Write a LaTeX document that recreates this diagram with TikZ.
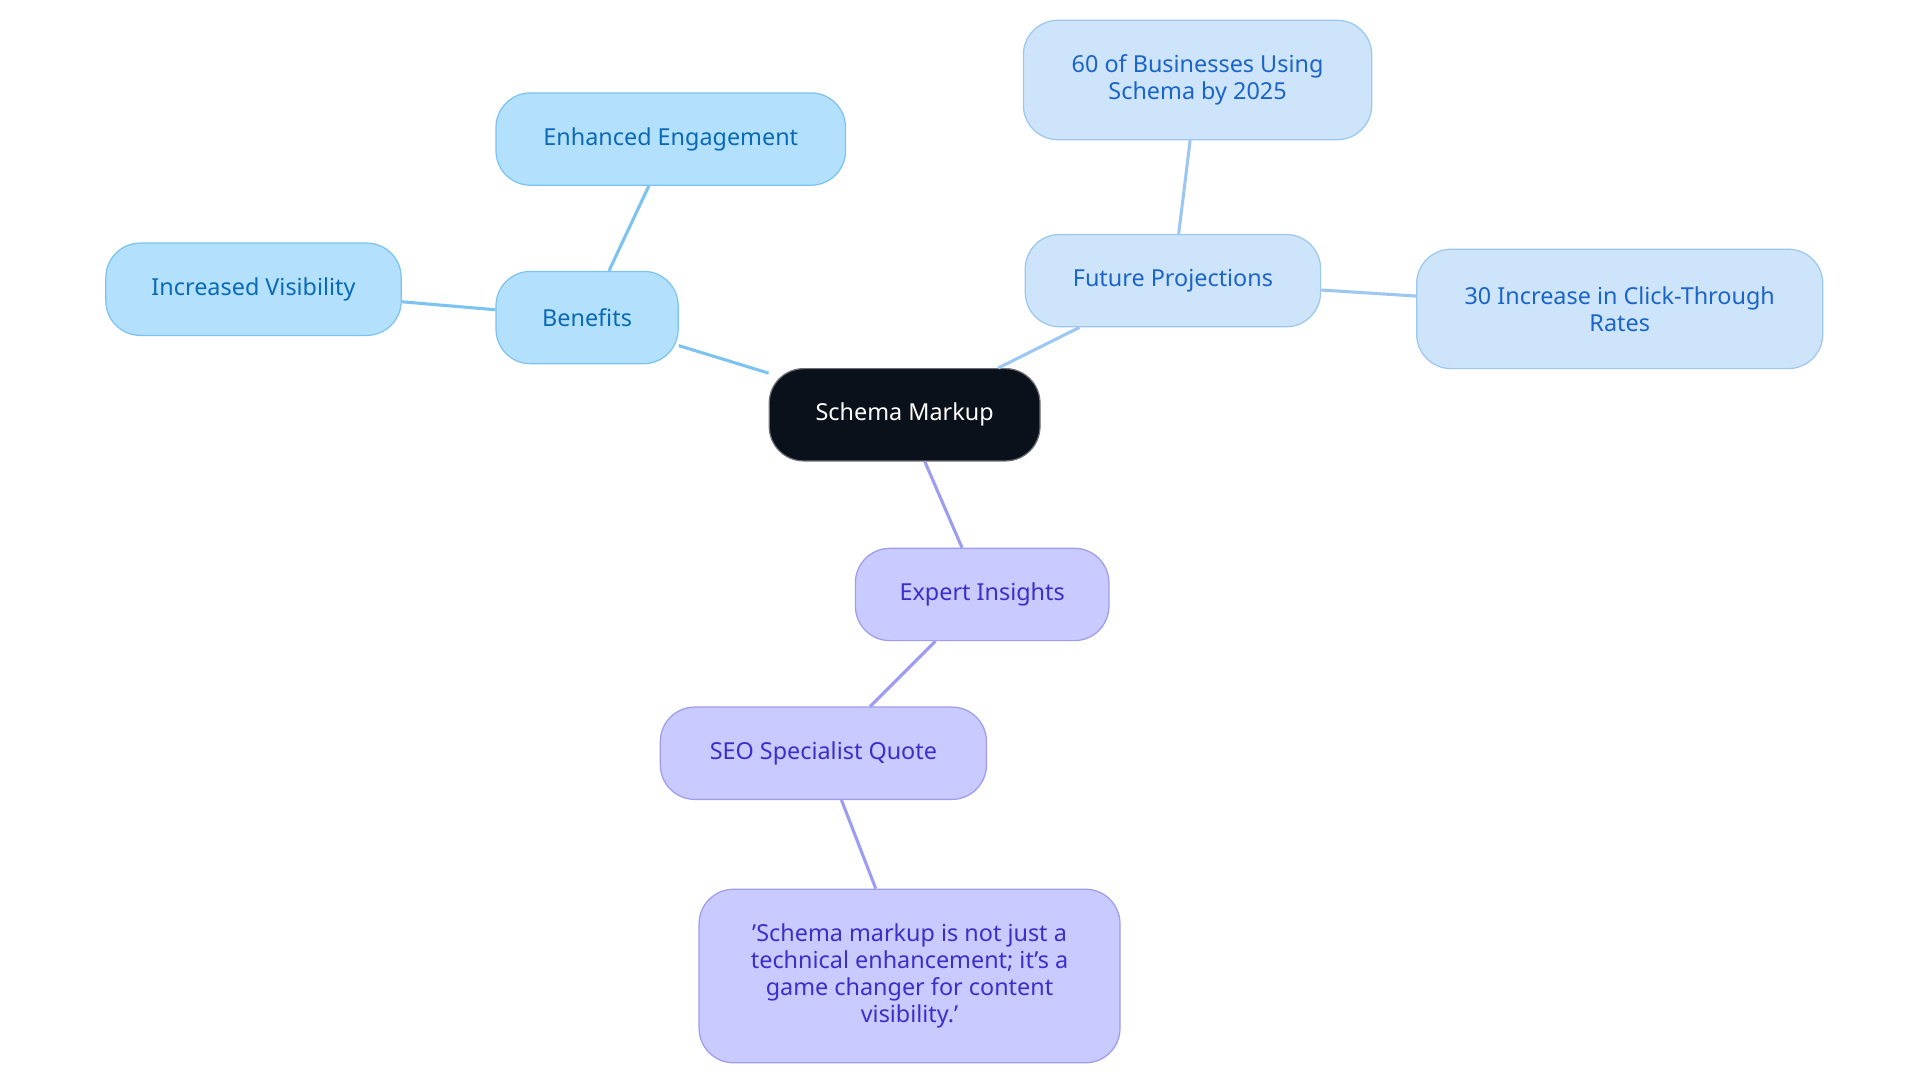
\documentclass[tikz,border=0pt]{standalone}
\usepackage{fontspec}
\setmainfont{Noto Sans}
\definecolor{bfill}{HTML}{B3E0FD}\definecolor{bdraw}{HTML}{7CC3F2}\definecolor{btext}{HTML}{0B6AB5}
\definecolor{ffill}{HTML}{CDE4FB}\definecolor{fdraw}{HTML}{9CC7F0}\definecolor{ftext}{HTML}{1B64C8}
\definecolor{efill}{HTML}{C9CAFF}\definecolor{edraw}{HTML}{9C9CF0}\definecolor{etext}{HTML}{3B2FC9}
\definecolor{root}{HTML}{0B111B}
\tikzset{
 box/.style={rounded corners=28pt,line width=1pt,align=center,inner sep=0pt,font=\fontsize{19}{22}\selectfont},
 bbox/.style={box,fill=bfill,draw=bdraw,text=btext},
 fbox/.style={box,fill=ffill,draw=fdraw,text=ftext},
 ebox/.style={box,fill=efill,draw=edraw,text=etext},
 link/.style={line width=2.5pt},
}
\begin{document}
\begin{tikzpicture}[x=1pt,y=-1pt]
\useasboundingbox (0,0) rectangle (1560,880);
\node[box,fill=root,draw=root!60,text=white,minimum width=220pt,minimum height=75pt] (sm) at (735,337) {Schema Markup};
\node[bbox,minimum width=148pt,minimum height=75pt] (ben) at (477,258) {Benefits};
\node[bbox,minimum width=240pt,minimum height=75pt] (vis) at (206,235) {Increased Visibility};
\node[bbox,minimum width=284pt,minimum height=75pt] (eng) at (545,113) {Enhanced Engagement};
\node[fbox,minimum width=240pt,minimum height=75pt] (fut) at (953,228) {Future Projections};
\node[fbox,minimum width=283pt,minimum height=97pt] (sixty) at (973,65) {60 of Businesses Using\\Schema by 2025};
\node[fbox,minimum width=330pt,minimum height=97pt] (thirty) at (1316,251) {30 Increase in Click-Through\\Rates};
\node[ebox,minimum width=206pt,minimum height=75pt] (exp) at (798,483) {Expert Insights};
\node[ebox,minimum width=265pt,minimum height=75pt] (seo) at (669,612) {SEO Specialist Quote};
\node[ebox,minimum width=342pt,minimum height=141pt] (quote) at (739,793) {'Schema markup is not just a\\technical enhancement; it’s a\\game changer for content\\visibility.'};
\begin{scope}[on background layer/.style={}]
\end{scope}
\begin{pgfonlayer}{main}\end{pgfonlayer}
\draw[link,draw=bdraw] (sm) -- (ben);
\draw[link,draw=bdraw] (ben) -- (vis);
\draw[link,draw=bdraw] (ben) -- (eng);
\draw[link,draw=fdraw] (sm) -- (fut);
\draw[link,draw=fdraw] (fut) -- (sixty);
\draw[link,draw=fdraw] (fut) -- (thirty);
\draw[link,draw=edraw] (sm) -- (exp);
\draw[link,draw=edraw] (exp) -- (seo);
\draw[link,draw=edraw] (seo) -- (quote);
\end{tikzpicture}
\end{document}
